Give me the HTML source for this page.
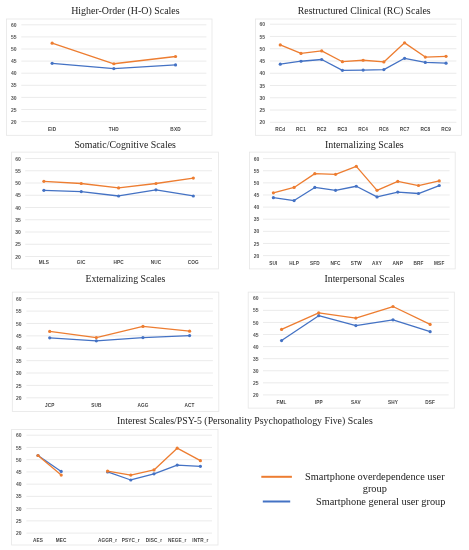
<!DOCTYPE html>
<html><head><meta charset="utf-8">
<style>
html,body{margin:0;padding:0;background:#fff;}
body{width:469px;height:550px;overflow:hidden;}
svg{display:block;filter:blur(0.3px);}
.yl{font-family:"Liberation Sans",sans-serif;font-size:5px;font-weight:bold;fill:#555;text-anchor:end;}
.xl{font-family:"Liberation Sans",sans-serif;font-size:4.7px;letter-spacing:0.15px;font-weight:bold;fill:#444;text-anchor:middle;}
.tt{font-family:"Liberation Serif",serif;font-size:10.2px;fill:#222;}
.lg{font-family:"Liberation Serif",serif;font-size:10.35px;fill:#222;text-anchor:middle;}
</style></head><body>
<svg width="469" height="550" viewBox="0 0 469 550">
<rect width="469" height="550" fill="#fff"/>
<rect x="6.5" y="19" width="205.5" height="116.3" fill="#fff" stroke="#E6E6E6" stroke-width="0.8"/>
<line x1="21.3" y1="24.8" x2="206.4" y2="24.8" stroke="#E6E6E6" stroke-width="0.8"/>
<text x="16.6" y="26.9" class="yl">60</text>
<line x1="21.3" y1="36.9" x2="206.4" y2="36.9" stroke="#E6E6E6" stroke-width="0.8"/>
<text x="16.6" y="39" class="yl">55</text>
<line x1="21.3" y1="49" x2="206.4" y2="49" stroke="#E6E6E6" stroke-width="0.8"/>
<text x="16.6" y="51.1" class="yl">50</text>
<line x1="21.3" y1="61.1" x2="206.4" y2="61.1" stroke="#E6E6E6" stroke-width="0.8"/>
<text x="16.6" y="63.2" class="yl">45</text>
<line x1="21.3" y1="73.2" x2="206.4" y2="73.2" stroke="#E6E6E6" stroke-width="0.8"/>
<text x="16.6" y="75.3" class="yl">40</text>
<line x1="21.3" y1="85.3" x2="206.4" y2="85.3" stroke="#E6E6E6" stroke-width="0.8"/>
<text x="16.6" y="87.4" class="yl">35</text>
<line x1="21.3" y1="97.4" x2="206.4" y2="97.4" stroke="#E6E6E6" stroke-width="0.8"/>
<text x="16.6" y="99.5" class="yl">30</text>
<line x1="21.3" y1="109.5" x2="206.4" y2="109.5" stroke="#E6E6E6" stroke-width="0.8"/>
<text x="16.6" y="111.6" class="yl">25</text>
<line x1="21.3" y1="121.6" x2="206.4" y2="121.6" stroke="#E6E6E6" stroke-width="0.8"/>
<text x="16.6" y="123.7" class="yl">20</text>
<text x="52.15" y="130.6" class="xl">EID</text>
<text x="113.85" y="130.6" class="xl">THD</text>
<text x="175.55" y="130.6" class="xl">BXD</text>
<polyline points="52.15,63.28 113.85,68.6 175.55,64.97" fill="none" stroke="#4472C4" stroke-width="1.3" stroke-linejoin="round"/>
<circle cx="52.15" cy="63.28" r="1.6" fill="#4472C4"/>
<circle cx="113.85" cy="68.6" r="1.6" fill="#4472C4"/>
<circle cx="175.55" cy="64.97" r="1.6" fill="#4472C4"/>
<polyline points="52.15,43.19 113.85,63.76 175.55,56.5" fill="none" stroke="#ED7D31" stroke-width="1.3" stroke-linejoin="round"/>
<circle cx="52.15" cy="43.19" r="1.6" fill="#ED7D31"/>
<circle cx="113.85" cy="63.76" r="1.6" fill="#ED7D31"/>
<circle cx="175.55" cy="56.5" r="1.6" fill="#ED7D31"/>
<text x="71.2" y="13.9" class="tt" textLength="108.4" lengthAdjust="spacingAndGlyphs">Higher-Order (H-O) Scales</text>
<rect x="255.4" y="19" width="206.1" height="116.3" fill="#fff" stroke="#E6E6E6" stroke-width="0.8"/>
<line x1="269.9" y1="24.2" x2="456.4" y2="24.2" stroke="#E6E6E6" stroke-width="0.8"/>
<text x="265" y="26.3" class="yl">60</text>
<line x1="269.9" y1="36.46" x2="456.4" y2="36.46" stroke="#E6E6E6" stroke-width="0.8"/>
<text x="265" y="38.56" class="yl">55</text>
<line x1="269.9" y1="48.72" x2="456.4" y2="48.72" stroke="#E6E6E6" stroke-width="0.8"/>
<text x="265" y="50.82" class="yl">50</text>
<line x1="269.9" y1="60.99" x2="456.4" y2="60.99" stroke="#E6E6E6" stroke-width="0.8"/>
<text x="265" y="63.09" class="yl">45</text>
<line x1="269.9" y1="73.25" x2="456.4" y2="73.25" stroke="#E6E6E6" stroke-width="0.8"/>
<text x="265" y="75.35" class="yl">40</text>
<line x1="269.9" y1="85.51" x2="456.4" y2="85.51" stroke="#E6E6E6" stroke-width="0.8"/>
<text x="265" y="87.61" class="yl">35</text>
<line x1="269.9" y1="97.77" x2="456.4" y2="97.77" stroke="#E6E6E6" stroke-width="0.8"/>
<text x="265" y="99.87" class="yl">30</text>
<line x1="269.9" y1="110.04" x2="456.4" y2="110.04" stroke="#E6E6E6" stroke-width="0.8"/>
<text x="265" y="112.14" class="yl">25</text>
<line x1="269.9" y1="122.3" x2="456.4" y2="122.3" stroke="#E6E6E6" stroke-width="0.8"/>
<text x="265" y="124.4" class="yl">20</text>
<text x="280.26" y="131.1" class="xl">RCd</text>
<text x="300.98" y="131.1" class="xl">RC1</text>
<text x="321.71" y="131.1" class="xl">RC2</text>
<text x="342.43" y="131.1" class="xl">RC3</text>
<text x="363.15" y="131.1" class="xl">RC4</text>
<text x="383.87" y="131.1" class="xl">RC6</text>
<text x="404.59" y="131.1" class="xl">RC7</text>
<text x="425.32" y="131.1" class="xl">RC8</text>
<text x="446.04" y="131.1" class="xl">RC9</text>
<polyline points="280.26,64.18 300.98,61.23 321.71,59.52 342.43,70.31 363.15,70.06 383.87,69.57 404.59,58.29 425.32,62.46 446.04,63.19" fill="none" stroke="#4472C4" stroke-width="1.3" stroke-linejoin="round"/>
<circle cx="280.26" cy="64.18" r="1.6" fill="#4472C4"/>
<circle cx="300.98" cy="61.23" r="1.6" fill="#4472C4"/>
<circle cx="321.71" cy="59.52" r="1.6" fill="#4472C4"/>
<circle cx="342.43" cy="70.31" r="1.6" fill="#4472C4"/>
<circle cx="363.15" cy="70.06" r="1.6" fill="#4472C4"/>
<circle cx="383.87" cy="69.57" r="1.6" fill="#4472C4"/>
<circle cx="404.59" cy="58.29" r="1.6" fill="#4472C4"/>
<circle cx="425.32" cy="62.46" r="1.6" fill="#4472C4"/>
<circle cx="446.04" cy="63.19" r="1.6" fill="#4472C4"/>
<polyline points="280.26,44.92 300.98,53.38 321.71,50.93 342.43,61.72 363.15,60.25 383.87,61.97 404.59,42.84 425.32,57.06 446.04,56.33" fill="none" stroke="#ED7D31" stroke-width="1.3" stroke-linejoin="round"/>
<circle cx="280.26" cy="44.92" r="1.6" fill="#ED7D31"/>
<circle cx="300.98" cy="53.38" r="1.6" fill="#ED7D31"/>
<circle cx="321.71" cy="50.93" r="1.6" fill="#ED7D31"/>
<circle cx="342.43" cy="61.72" r="1.6" fill="#ED7D31"/>
<circle cx="363.15" cy="60.25" r="1.6" fill="#ED7D31"/>
<circle cx="383.87" cy="61.97" r="1.6" fill="#ED7D31"/>
<circle cx="404.59" cy="42.84" r="1.6" fill="#ED7D31"/>
<circle cx="425.32" cy="57.06" r="1.6" fill="#ED7D31"/>
<circle cx="446.04" cy="56.33" r="1.6" fill="#ED7D31"/>
<text x="297.8" y="13.8" class="tt" textLength="132.8" lengthAdjust="spacingAndGlyphs">Restructured Clinical (RC) Scales</text>
<rect x="11.6" y="152.1" width="206.9" height="116.8" fill="#fff" stroke="#E6E6E6" stroke-width="0.8"/>
<line x1="25.2" y1="158.5" x2="212" y2="158.5" stroke="#E6E6E6" stroke-width="0.8"/>
<text x="20.8" y="160.6" class="yl">60</text>
<line x1="25.2" y1="170.75" x2="212" y2="170.75" stroke="#E6E6E6" stroke-width="0.8"/>
<text x="20.8" y="172.85" class="yl">55</text>
<line x1="25.2" y1="183" x2="212" y2="183" stroke="#E6E6E6" stroke-width="0.8"/>
<text x="20.8" y="185.1" class="yl">50</text>
<line x1="25.2" y1="195.25" x2="212" y2="195.25" stroke="#E6E6E6" stroke-width="0.8"/>
<text x="20.8" y="197.35" class="yl">45</text>
<line x1="25.2" y1="207.5" x2="212" y2="207.5" stroke="#E6E6E6" stroke-width="0.8"/>
<text x="20.8" y="209.6" class="yl">40</text>
<line x1="25.2" y1="219.75" x2="212" y2="219.75" stroke="#E6E6E6" stroke-width="0.8"/>
<text x="20.8" y="221.85" class="yl">35</text>
<line x1="25.2" y1="232" x2="212" y2="232" stroke="#E6E6E6" stroke-width="0.8"/>
<text x="20.8" y="234.1" class="yl">30</text>
<line x1="25.2" y1="244.25" x2="212" y2="244.25" stroke="#E6E6E6" stroke-width="0.8"/>
<text x="20.8" y="246.35" class="yl">25</text>
<line x1="25.2" y1="256.5" x2="212" y2="256.5" stroke="#E6E6E6" stroke-width="0.8"/>
<text x="20.8" y="258.6" class="yl">20</text>
<text x="43.88" y="264.3" class="xl">MLS</text>
<text x="81.24" y="264.3" class="xl">GIC</text>
<text x="118.6" y="264.3" class="xl">HPC</text>
<text x="155.96" y="264.3" class="xl">NUC</text>
<text x="193.32" y="264.3" class="xl">COG</text>
<polyline points="43.88,190.35 81.24,191.57 118.6,195.98 155.96,189.86 193.32,195.98" fill="none" stroke="#4472C4" stroke-width="1.3" stroke-linejoin="round"/>
<circle cx="43.88" cy="190.35" r="1.6" fill="#4472C4"/>
<circle cx="81.24" cy="191.57" r="1.6" fill="#4472C4"/>
<circle cx="118.6" cy="195.98" r="1.6" fill="#4472C4"/>
<circle cx="155.96" cy="189.86" r="1.6" fill="#4472C4"/>
<circle cx="193.32" cy="195.98" r="1.6" fill="#4472C4"/>
<polyline points="43.88,181.28 81.24,183.49 118.6,187.9 155.96,183.49 193.32,178.1" fill="none" stroke="#ED7D31" stroke-width="1.3" stroke-linejoin="round"/>
<circle cx="43.88" cy="181.28" r="1.6" fill="#ED7D31"/>
<circle cx="81.24" cy="183.49" r="1.6" fill="#ED7D31"/>
<circle cx="118.6" cy="187.9" r="1.6" fill="#ED7D31"/>
<circle cx="155.96" cy="183.49" r="1.6" fill="#ED7D31"/>
<circle cx="193.32" cy="178.1" r="1.6" fill="#ED7D31"/>
<text x="74.4" y="147.9" class="tt" textLength="101.5" lengthAdjust="spacingAndGlyphs">Somatic/Cognitive Scales</text>
<rect x="249.4" y="152.1" width="205.8" height="116.8" fill="#fff" stroke="#E6E6E6" stroke-width="0.8"/>
<line x1="263" y1="158.6" x2="449.6" y2="158.6" stroke="#E6E6E6" stroke-width="0.8"/>
<text x="259.4" y="160.7" class="yl">60</text>
<line x1="263" y1="170.72" x2="449.6" y2="170.72" stroke="#E6E6E6" stroke-width="0.8"/>
<text x="259.4" y="172.82" class="yl">55</text>
<line x1="263" y1="182.85" x2="449.6" y2="182.85" stroke="#E6E6E6" stroke-width="0.8"/>
<text x="259.4" y="184.95" class="yl">50</text>
<line x1="263" y1="194.97" x2="449.6" y2="194.97" stroke="#E6E6E6" stroke-width="0.8"/>
<text x="259.4" y="197.07" class="yl">45</text>
<line x1="263" y1="207.1" x2="449.6" y2="207.1" stroke="#E6E6E6" stroke-width="0.8"/>
<text x="259.4" y="209.2" class="yl">40</text>
<line x1="263" y1="219.22" x2="449.6" y2="219.22" stroke="#E6E6E6" stroke-width="0.8"/>
<text x="259.4" y="221.32" class="yl">35</text>
<line x1="263" y1="231.35" x2="449.6" y2="231.35" stroke="#E6E6E6" stroke-width="0.8"/>
<text x="259.4" y="233.45" class="yl">30</text>
<line x1="263" y1="243.47" x2="449.6" y2="243.47" stroke="#E6E6E6" stroke-width="0.8"/>
<text x="259.4" y="245.57" class="yl">25</text>
<line x1="263" y1="255.6" x2="449.6" y2="255.6" stroke="#E6E6E6" stroke-width="0.8"/>
<text x="259.4" y="257.7" class="yl">20</text>
<text x="273.37" y="264.8" class="xl">SUI</text>
<text x="294.1" y="264.8" class="xl">HLP</text>
<text x="314.83" y="264.8" class="xl">SFD</text>
<text x="335.57" y="264.8" class="xl">NFC</text>
<text x="356.3" y="264.8" class="xl">STW</text>
<text x="377.03" y="264.8" class="xl">AXY</text>
<text x="397.77" y="264.8" class="xl">ANP</text>
<text x="418.5" y="264.8" class="xl">BRF</text>
<text x="439.23" y="264.8" class="xl">MSF</text>
<polyline points="273.37,197.64 294.1,200.55 314.83,187.46 335.57,190.37 356.3,186.25 377.03,196.91 397.77,192.06 418.5,193.52 439.23,185.52" fill="none" stroke="#4472C4" stroke-width="1.3" stroke-linejoin="round"/>
<circle cx="273.37" cy="197.64" r="1.6" fill="#4472C4"/>
<circle cx="294.1" cy="200.55" r="1.6" fill="#4472C4"/>
<circle cx="314.83" cy="187.46" r="1.6" fill="#4472C4"/>
<circle cx="335.57" cy="190.37" r="1.6" fill="#4472C4"/>
<circle cx="356.3" cy="186.25" r="1.6" fill="#4472C4"/>
<circle cx="377.03" cy="196.91" r="1.6" fill="#4472C4"/>
<circle cx="397.77" cy="192.06" r="1.6" fill="#4472C4"/>
<circle cx="418.5" cy="193.52" r="1.6" fill="#4472C4"/>
<circle cx="439.23" cy="185.52" r="1.6" fill="#4472C4"/>
<polyline points="273.37,192.79 294.1,187.46 314.83,173.63 335.57,174.36 356.3,166.36 377.03,190.37 397.77,181.39 418.5,185.52 439.23,180.91" fill="none" stroke="#ED7D31" stroke-width="1.3" stroke-linejoin="round"/>
<circle cx="273.37" cy="192.79" r="1.6" fill="#ED7D31"/>
<circle cx="294.1" cy="187.46" r="1.6" fill="#ED7D31"/>
<circle cx="314.83" cy="173.63" r="1.6" fill="#ED7D31"/>
<circle cx="335.57" cy="174.36" r="1.6" fill="#ED7D31"/>
<circle cx="356.3" cy="166.36" r="1.6" fill="#ED7D31"/>
<circle cx="377.03" cy="190.37" r="1.6" fill="#ED7D31"/>
<circle cx="397.77" cy="181.39" r="1.6" fill="#ED7D31"/>
<circle cx="418.5" cy="185.52" r="1.6" fill="#ED7D31"/>
<circle cx="439.23" cy="180.91" r="1.6" fill="#ED7D31"/>
<text x="325" y="147.9" class="tt" textLength="78.7" lengthAdjust="spacingAndGlyphs">Internalizing Scales</text>
<rect x="12.3" y="292.1" width="206.5" height="119.4" fill="#fff" stroke="#E6E6E6" stroke-width="0.8"/>
<line x1="26.4" y1="298.7" x2="212.9" y2="298.7" stroke="#E6E6E6" stroke-width="0.8"/>
<text x="21.5" y="300.8" class="yl">60</text>
<line x1="26.4" y1="311.09" x2="212.9" y2="311.09" stroke="#E6E6E6" stroke-width="0.8"/>
<text x="21.5" y="313.19" class="yl">55</text>
<line x1="26.4" y1="323.48" x2="212.9" y2="323.48" stroke="#E6E6E6" stroke-width="0.8"/>
<text x="21.5" y="325.58" class="yl">50</text>
<line x1="26.4" y1="335.86" x2="212.9" y2="335.86" stroke="#E6E6E6" stroke-width="0.8"/>
<text x="21.5" y="337.96" class="yl">45</text>
<line x1="26.4" y1="348.25" x2="212.9" y2="348.25" stroke="#E6E6E6" stroke-width="0.8"/>
<text x="21.5" y="350.35" class="yl">40</text>
<line x1="26.4" y1="360.64" x2="212.9" y2="360.64" stroke="#E6E6E6" stroke-width="0.8"/>
<text x="21.5" y="362.74" class="yl">35</text>
<line x1="26.4" y1="373.02" x2="212.9" y2="373.02" stroke="#E6E6E6" stroke-width="0.8"/>
<text x="21.5" y="375.12" class="yl">30</text>
<line x1="26.4" y1="385.41" x2="212.9" y2="385.41" stroke="#E6E6E6" stroke-width="0.8"/>
<text x="21.5" y="387.51" class="yl">25</text>
<line x1="26.4" y1="397.8" x2="212.9" y2="397.8" stroke="#E6E6E6" stroke-width="0.8"/>
<text x="21.5" y="399.9" class="yl">20</text>
<text x="49.71" y="407.3" class="xl">JCP</text>
<text x="96.34" y="407.3" class="xl">SUB</text>
<text x="142.96" y="407.3" class="xl">AGG</text>
<text x="189.59" y="407.3" class="xl">ACT</text>
<polyline points="49.71,337.84 96.34,340.82 142.96,337.6 189.59,335.61" fill="none" stroke="#4472C4" stroke-width="1.3" stroke-linejoin="round"/>
<circle cx="49.71" cy="337.84" r="1.6" fill="#4472C4"/>
<circle cx="96.34" cy="340.82" r="1.6" fill="#4472C4"/>
<circle cx="142.96" cy="337.6" r="1.6" fill="#4472C4"/>
<circle cx="189.59" cy="335.61" r="1.6" fill="#4472C4"/>
<polyline points="49.71,331.4 96.34,337.6 142.96,326.45 189.59,331.16" fill="none" stroke="#ED7D31" stroke-width="1.3" stroke-linejoin="round"/>
<circle cx="49.71" cy="331.4" r="1.6" fill="#ED7D31"/>
<circle cx="96.34" cy="337.6" r="1.6" fill="#ED7D31"/>
<circle cx="142.96" cy="326.45" r="1.6" fill="#ED7D31"/>
<circle cx="189.59" cy="331.16" r="1.6" fill="#ED7D31"/>
<text x="85.5" y="282.1" class="tt" textLength="79.9" lengthAdjust="spacingAndGlyphs">Externalizing Scales</text>
<rect x="248.2" y="292.1" width="206.1" height="116" fill="#fff" stroke="#E6E6E6" stroke-width="0.8"/>
<line x1="263" y1="298.3" x2="448.7" y2="298.3" stroke="#E6E6E6" stroke-width="0.8"/>
<text x="258.5" y="300.4" class="yl">60</text>
<line x1="263" y1="310.38" x2="448.7" y2="310.38" stroke="#E6E6E6" stroke-width="0.8"/>
<text x="258.5" y="312.48" class="yl">55</text>
<line x1="263" y1="322.45" x2="448.7" y2="322.45" stroke="#E6E6E6" stroke-width="0.8"/>
<text x="258.5" y="324.55" class="yl">50</text>
<line x1="263" y1="334.52" x2="448.7" y2="334.52" stroke="#E6E6E6" stroke-width="0.8"/>
<text x="258.5" y="336.62" class="yl">45</text>
<line x1="263" y1="346.6" x2="448.7" y2="346.6" stroke="#E6E6E6" stroke-width="0.8"/>
<text x="258.5" y="348.7" class="yl">40</text>
<line x1="263" y1="358.68" x2="448.7" y2="358.68" stroke="#E6E6E6" stroke-width="0.8"/>
<text x="258.5" y="360.78" class="yl">35</text>
<line x1="263" y1="370.75" x2="448.7" y2="370.75" stroke="#E6E6E6" stroke-width="0.8"/>
<text x="258.5" y="372.85" class="yl">30</text>
<line x1="263" y1="382.82" x2="448.7" y2="382.82" stroke="#E6E6E6" stroke-width="0.8"/>
<text x="258.5" y="384.93" class="yl">25</text>
<line x1="263" y1="394.9" x2="448.7" y2="394.9" stroke="#E6E6E6" stroke-width="0.8"/>
<text x="258.5" y="397" class="yl">20</text>
<text x="281.57" y="404" class="xl">FML</text>
<text x="318.71" y="404" class="xl">IPP</text>
<text x="355.85" y="404" class="xl">SAV</text>
<text x="392.99" y="404" class="xl">SHY</text>
<text x="430.13" y="404" class="xl">DSF</text>
<polyline points="281.57,340.56 318.71,315.69 355.85,325.59 392.99,319.79 430.13,331.63" fill="none" stroke="#4472C4" stroke-width="1.3" stroke-linejoin="round"/>
<circle cx="281.57" cy="340.56" r="1.6" fill="#4472C4"/>
<circle cx="318.71" cy="315.69" r="1.6" fill="#4472C4"/>
<circle cx="355.85" cy="325.59" r="1.6" fill="#4472C4"/>
<circle cx="392.99" cy="319.79" r="1.6" fill="#4472C4"/>
<circle cx="430.13" cy="331.63" r="1.6" fill="#4472C4"/>
<polyline points="281.57,329.45 318.71,312.79 355.85,318.1 392.99,306.51 430.13,324.38" fill="none" stroke="#ED7D31" stroke-width="1.3" stroke-linejoin="round"/>
<circle cx="281.57" cy="329.45" r="1.6" fill="#ED7D31"/>
<circle cx="318.71" cy="312.79" r="1.6" fill="#ED7D31"/>
<circle cx="355.85" cy="318.1" r="1.6" fill="#ED7D31"/>
<circle cx="392.99" cy="306.51" r="1.6" fill="#ED7D31"/>
<circle cx="430.13" cy="324.38" r="1.6" fill="#ED7D31"/>
<text x="324.4" y="282.1" class="tt" textLength="79.9" lengthAdjust="spacingAndGlyphs">Interpersonal Scales</text>
<rect x="11.6" y="429.5" width="206.4" height="115.5" fill="#fff" stroke="#E6E6E6" stroke-width="0.8"/>
<line x1="26.4" y1="435.2" x2="212" y2="435.2" stroke="#E6E6E6" stroke-width="0.8"/>
<text x="21.5" y="437.3" class="yl">60</text>
<line x1="26.4" y1="447.44" x2="212" y2="447.44" stroke="#E6E6E6" stroke-width="0.8"/>
<text x="21.5" y="449.54" class="yl">55</text>
<line x1="26.4" y1="459.68" x2="212" y2="459.68" stroke="#E6E6E6" stroke-width="0.8"/>
<text x="21.5" y="461.78" class="yl">50</text>
<line x1="26.4" y1="471.91" x2="212" y2="471.91" stroke="#E6E6E6" stroke-width="0.8"/>
<text x="21.5" y="474.01" class="yl">45</text>
<line x1="26.4" y1="484.15" x2="212" y2="484.15" stroke="#E6E6E6" stroke-width="0.8"/>
<text x="21.5" y="486.25" class="yl">40</text>
<line x1="26.4" y1="496.39" x2="212" y2="496.39" stroke="#E6E6E6" stroke-width="0.8"/>
<text x="21.5" y="498.49" class="yl">35</text>
<line x1="26.4" y1="508.62" x2="212" y2="508.62" stroke="#E6E6E6" stroke-width="0.8"/>
<text x="21.5" y="510.73" class="yl">30</text>
<line x1="26.4" y1="520.86" x2="212" y2="520.86" stroke="#E6E6E6" stroke-width="0.8"/>
<text x="21.5" y="522.96" class="yl">25</text>
<line x1="26.4" y1="533.1" x2="212" y2="533.1" stroke="#E6E6E6" stroke-width="0.8"/>
<text x="21.5" y="535.2" class="yl">20</text>
<text x="38" y="542.1" class="xl">AES</text>
<text x="61.2" y="542.1" class="xl">MEC</text>
<text x="107.6" y="542.1" class="xl">AGGR_r</text>
<text x="130.8" y="542.1" class="xl">PSYC_r</text>
<text x="154" y="542.1" class="xl">DISC_r</text>
<text x="177.2" y="542.1" class="xl">NEGE_r</text>
<text x="200.4" y="542.1" class="xl">INTR_r</text>
<polyline points="38,455.51 61.2,471.42" fill="none" stroke="#4472C4" stroke-width="1.3" stroke-linejoin="round"/>
<circle cx="38" cy="455.51" r="1.6" fill="#4472C4"/>
<circle cx="61.2" cy="471.42" r="1.6" fill="#4472C4"/>
<polyline points="107.6,471.91 130.8,479.99 154,473.87 177.2,465.06 200.4,466.28" fill="none" stroke="#4472C4" stroke-width="1.3" stroke-linejoin="round"/>
<circle cx="107.6" cy="471.91" r="1.6" fill="#4472C4"/>
<circle cx="130.8" cy="479.99" r="1.6" fill="#4472C4"/>
<circle cx="154" cy="473.87" r="1.6" fill="#4472C4"/>
<circle cx="177.2" cy="465.06" r="1.6" fill="#4472C4"/>
<circle cx="200.4" cy="466.28" r="1.6" fill="#4472C4"/>
<polyline points="38,455.51 61.2,475.09" fill="none" stroke="#ED7D31" stroke-width="1.3" stroke-linejoin="round"/>
<circle cx="38" cy="455.51" r="1.6" fill="#ED7D31"/>
<circle cx="61.2" cy="475.09" r="1.6" fill="#ED7D31"/>
<polyline points="107.6,471.18 130.8,475.09 154,469.95 177.2,448.17 200.4,460.65" fill="none" stroke="#ED7D31" stroke-width="1.3" stroke-linejoin="round"/>
<circle cx="107.6" cy="471.18" r="1.6" fill="#ED7D31"/>
<circle cx="130.8" cy="475.09" r="1.6" fill="#ED7D31"/>
<circle cx="154" cy="469.95" r="1.6" fill="#ED7D31"/>
<circle cx="177.2" cy="448.17" r="1.6" fill="#ED7D31"/>
<circle cx="200.4" cy="460.65" r="1.6" fill="#ED7D31"/>
<text x="117" y="424.2" class="tt" textLength="255.8" lengthAdjust="spacingAndGlyphs">Interest Scales/PSY-5 (Personality Psychopathology Five) Scales</text>
<line x1="261.3" y1="476.8" x2="291.9" y2="476.8" stroke="#ED7D31" stroke-width="2"/>
<line x1="262.8" y1="501.5" x2="290.2" y2="501.5" stroke="#4472C4" stroke-width="2"/>
<text x="374.8" y="480" class="lg">Smartphone overdependence user</text>
<text x="374.8" y="492.1" class="lg">group</text>
<text x="380.7" y="504.6" class="lg">Smartphone general user group</text>
</svg>
</body></html>
